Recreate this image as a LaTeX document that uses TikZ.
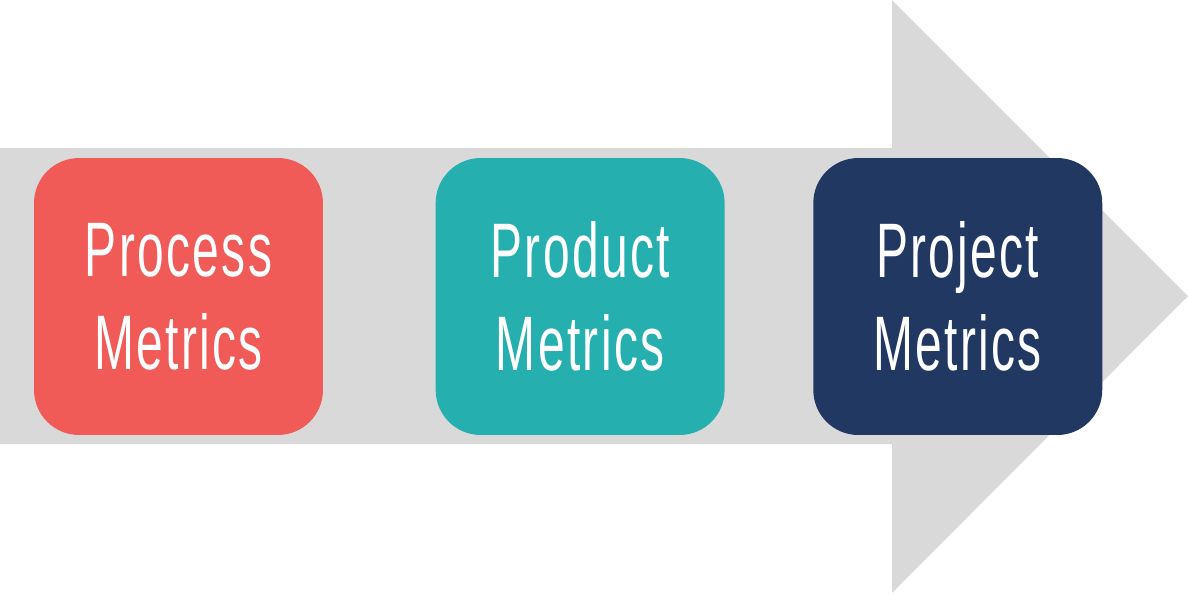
\documentclass[tikz,border=0pt]{standalone}
\usepackage{fontspec}
\setmainfont[FakeStretch=0.62,LetterSpace=3]{Liberation Sans}
\usetikzlibrary{calc}
\definecolor{shaftgray}{HTML}{D9D9D9}
\definecolor{processred}{HTML}{F05A57}
\definecolor{productteal}{HTML}{25B0AF}
\definecolor{projectnavy}{HTML}{213863}
\begin{document}
\begin{tikzpicture}[x=0.02cm,y=-0.02cm,every node/.style={text=white,rounded corners=0.9cm,minimum width=5.78cm,minimum height=5.54cm,align=center,font=\fontsize{44}{53}\selectfont},link/.style={fill=shaftgray}]
      \useasboundingbox (0,0) rectangle (1188,593);
      \fill[link] (0,148) -- (892,148) -- (892,0) -- (1188,296) -- (892,593) -- (892,444) -- (0,444) -- cycle;

      \node[fill=processred] (process metrics) at (178.5,296.5) {Process\\Metrics};
      \node[fill=productteal,anchor=west] (product metrics) at ($ (process metrics.east) + (112,0) $) {Product\\Metrics};
      \node[fill=projectnavy,anchor=west] (project metrics) at ($ (product metrics.east) + (88,0) $) {Project\\Metrics};
    \end{tikzpicture}
\end{document}
